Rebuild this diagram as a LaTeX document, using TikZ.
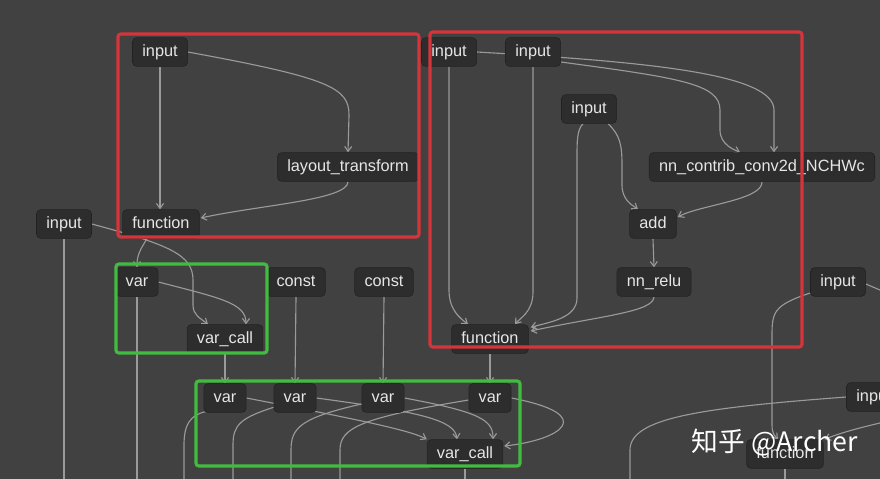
\documentclass[tikz,border=0pt]{standalone}
\usepackage{fontspec}
\setmainfont{Liberation Sans}
\newfontfamily\cjk{Noto Sans CJK SC}
\usetikzlibrary{arrows.meta, positioning, backgrounds, calc}
\definecolor{graphbg}{HTML}{414141}
\definecolor{opfill}{HTML}{2D2D2D}
\definecolor{opline}{HTML}{222222}
\definecolor{optext}{HTML}{E6E6E6}
\definecolor{edgegray}{HTML}{9A9A9A}
\definecolor{fusered}{HTML}{D5353A}
\definecolor{fusegreen}{HTML}{41BC41}

\begin{document}
\begin{tikzpicture}[x=0.025cm,y=-0.025cm,
    op/.style={draw=opline,fill=opfill,text=optext,rounded corners=3pt,minimum height=20.5pt,inner xsep=7pt,text height=9pt,text depth=2pt,font=\fontsize{11.6}{13}\selectfont},
    edge/.style={draw=edgegray,line width=0.8pt,-{Straight Barb[length=3.5pt,width=5pt]}},
    edgeout/.style={draw=edgegray,line width=0.8pt},
    redframe/.style={draw=fusered,line width=2.2pt,rounded corners=2pt},
    greenframe/.style={draw=fusegreen,line width=2.2pt,rounded corners=2pt}]
  \useasboundingbox (0,0) rectangle (880,479);
  % ops, left fused function
  \node[op] (in1) at (160,52) {input};
  \node[op] (lt) at (348,167) {layout\_transform};
  \node[op] (fn1) at (161,224) {function};
  \node[op] (in2) at (64,224) {input};
  % ops, right fused function
  \node[op] (in3) at (449,52) {input};
  \node[op] (in4) at (533,52) {input};
  \node[op] (in5) at (589,109) {input};
  \node[op] (conv) at (762,167) {nn\_contrib\_conv2d\_NCHWc};
  \node[op] (add) at (653,224) {add};
  \node[op] (relu) at (654,282) {nn\_relu};
  \node[op] (fn2) at (490,339) {function};
  \node[op] (in6) at (838,282) {input};
  % var / var_call
  \node[op] (var1) at (137,282) {var};
  \node[op] (vc1) at (225,339) {var\_call};
  \node[op] (const1) at (296,282) {const};
  \node[op] (const2) at (384,282) {const};
  \node[op] (var2) at (225,398) {var};
  \node[op] (var3) at (295,398) {var};
  \node[op] (var4) at (383,398) {var};
  \node[op] (var5) at (490,398) {var};
  \node[op] (vc2) at (465,454) {var\_call};
  \node[op] (in7) at (874,397) {input};
  \node[op] (fn3) at (785,454) {function};
  % free ends off the picture
  \coordinate (offa) at (64,479);
  \coordinate (offb) at (137,479);
  \coordinate (offc) at (184,479);
  \coordinate (offd) at (233,479);
  \coordinate (offe) at (291,479);
  \coordinate (offf) at (340,479);
  \coordinate (offg) at (465,479);
  \coordinate (offh) at (630,479);
  \coordinate (offi) at (785,479);
  \coordinate (offj) at (880,290);
  \coordinate (offk) at (880,423);
  \begin{scope}[on background layer]
    \fill[graphbg] (0,0) rectangle (880,479);
    \draw[edge] (in1.south) -- (in1.south |- fn1.north);
    \draw[edge] (in1.east) .. controls (330,78) and (349,88) .. (349,115) -- (lt.north);
    \draw[edge] (lt.south) .. controls (348,200) and (260,205) .. ($(fn1.east)+(1,-6)$);
    \draw[edgeout] (in2.south) -- (offa);
    \draw[edge] (in2.east) .. controls (170,245) and (193,255) .. (193,280) -- (193,305) .. controls (193,315) and (200,318) .. ($(vc1.north)+(-17,0)$);
    \draw[edge] ($(fn1.south)+(-14,0)$) .. controls (140,250) and (137,255) .. (var1.north);
    \draw[edge] (var1.east) .. controls (220,298) and (246,303) .. ($(vc1.north)+(21,0)$);
    \draw[edgeout] (var1.south) -- (offb);
    \draw[edge] (vc1.south) -- (var2.north);
    \draw[edge] (const1.south) -- (var3.north);
    \draw[edge] (const2.south) -- (var4.north);
    \draw[edge] (fn2.south) -- (var5.north);
    \draw[edge] (in3.south) -- (449,290) .. controls (449,310) and (460,318) .. ($(fn2.north)+(-22,0)$);
    \draw[edge] (in4.south) -- (533,292) .. controls (533,312) and (520,318) .. ($(fn2.north)+(25,0)$);
    \draw[edge] ($(in5.south)+(-6,0)$) .. controls (577,130) and (577,140) .. (577,160) -- (577,298) .. controls (577,318) and (550,322) .. ($(fn2.north east)+(2,3)$);
    \draw[edge] (relu.south) .. controls (654,312) and (600,316) .. ($(fn2.east)+(2,-8)$);
    \draw[edge] ($(in5.south)+(19,0)$) .. controls (620,135) and (622,145) .. (622,165) -- (622,185) .. controls (622,200) and (632,205) .. ($(add.north)+(-15,0)$);
    \draw[edge] (in3.east) .. controls (650,62) and (774,74) .. (774,110) -- ($(conv.north)+(12,0)$);
    \draw[edge] ($(in4.east)+(0,10)$) .. controls (680,78) and (720,84) .. (720,110) -- (720,130) .. controls (720,145) and (735,150) .. ($(conv.north)+(-22,0)$);
    \draw[edge] (conv.south) .. controls (763,200) and (700,205) .. ($(add.east)+(1,-7)$);
    \draw[edge] (add.south) -- (relu.north);
    \draw[edge] ($(in6.west)+(0,11)$) .. controls (774,305) and (772,312) .. (772,335) -- (772,425) .. controls (772,435) and (776,437) .. ($(fn3.north)+(-7,0)$);
    \draw[edgeout] ($(in6.east)+(0,2)$) -- (offj);
    \draw[edge] (offk) .. controls (850,430) and (835,435) .. ($(fn3.north east)+(1,0)$);
    \draw[edgeout] (in7.west) .. controls (700,408) and (630,418) .. (630,450) -- (offh);
    \draw[edgeout] (fn3.south) -- (offi);
    \draw[edgeout] (vc2.south) -- (offg);
    \draw[edge] (var2.east) .. controls (350,418) and (410,430) .. (vc2.north west);
    \draw[edge] (var3.east) .. controls (420,412) and (455,420) .. ($(vc2.north)+(-8,0)$);
    \draw[edge] (var4.east) .. controls (480,412) and (493,420) .. ($(vc2.north)+(28,0)$);
    \draw[edge] (var5.east) .. controls (600,415) and (560,440) .. ($(vc2.east)+(1,-8)$);
    \draw[edgeout] ($(var2.south west)+(2,-1)$) .. controls (190,415) and (184,425) .. (184,445) -- (offc);
    \draw[edgeout] ($(var3.west)+(1,9)$) .. controls (240,418) and (233,425) .. (233,445) -- (offd);
    \draw[edgeout] ($(var4.west)+(0,6)$) .. controls (300,418) and (291,428) .. (291,450) -- (offe);
    \draw[edgeout] ($(var5.west)+(0,2)$) .. controls (360,418) and (340,428) .. (340,450) -- (offf);
  \end{scope}
  % fused groups
  \draw[redframe] (118,34) rectangle (419,237);
  \draw[redframe] (430,32) rectangle (802,347);
  \draw[greenframe] (116,264) rectangle (267,353);
  \draw[greenframe] (196,381) rectangle (520,466);
  \node[text=white,font=\cjk\fontsize{19}{23}\selectfont] (mark) at (775,443) {知乎 @Archer};
\end{tikzpicture}
\end{document}
